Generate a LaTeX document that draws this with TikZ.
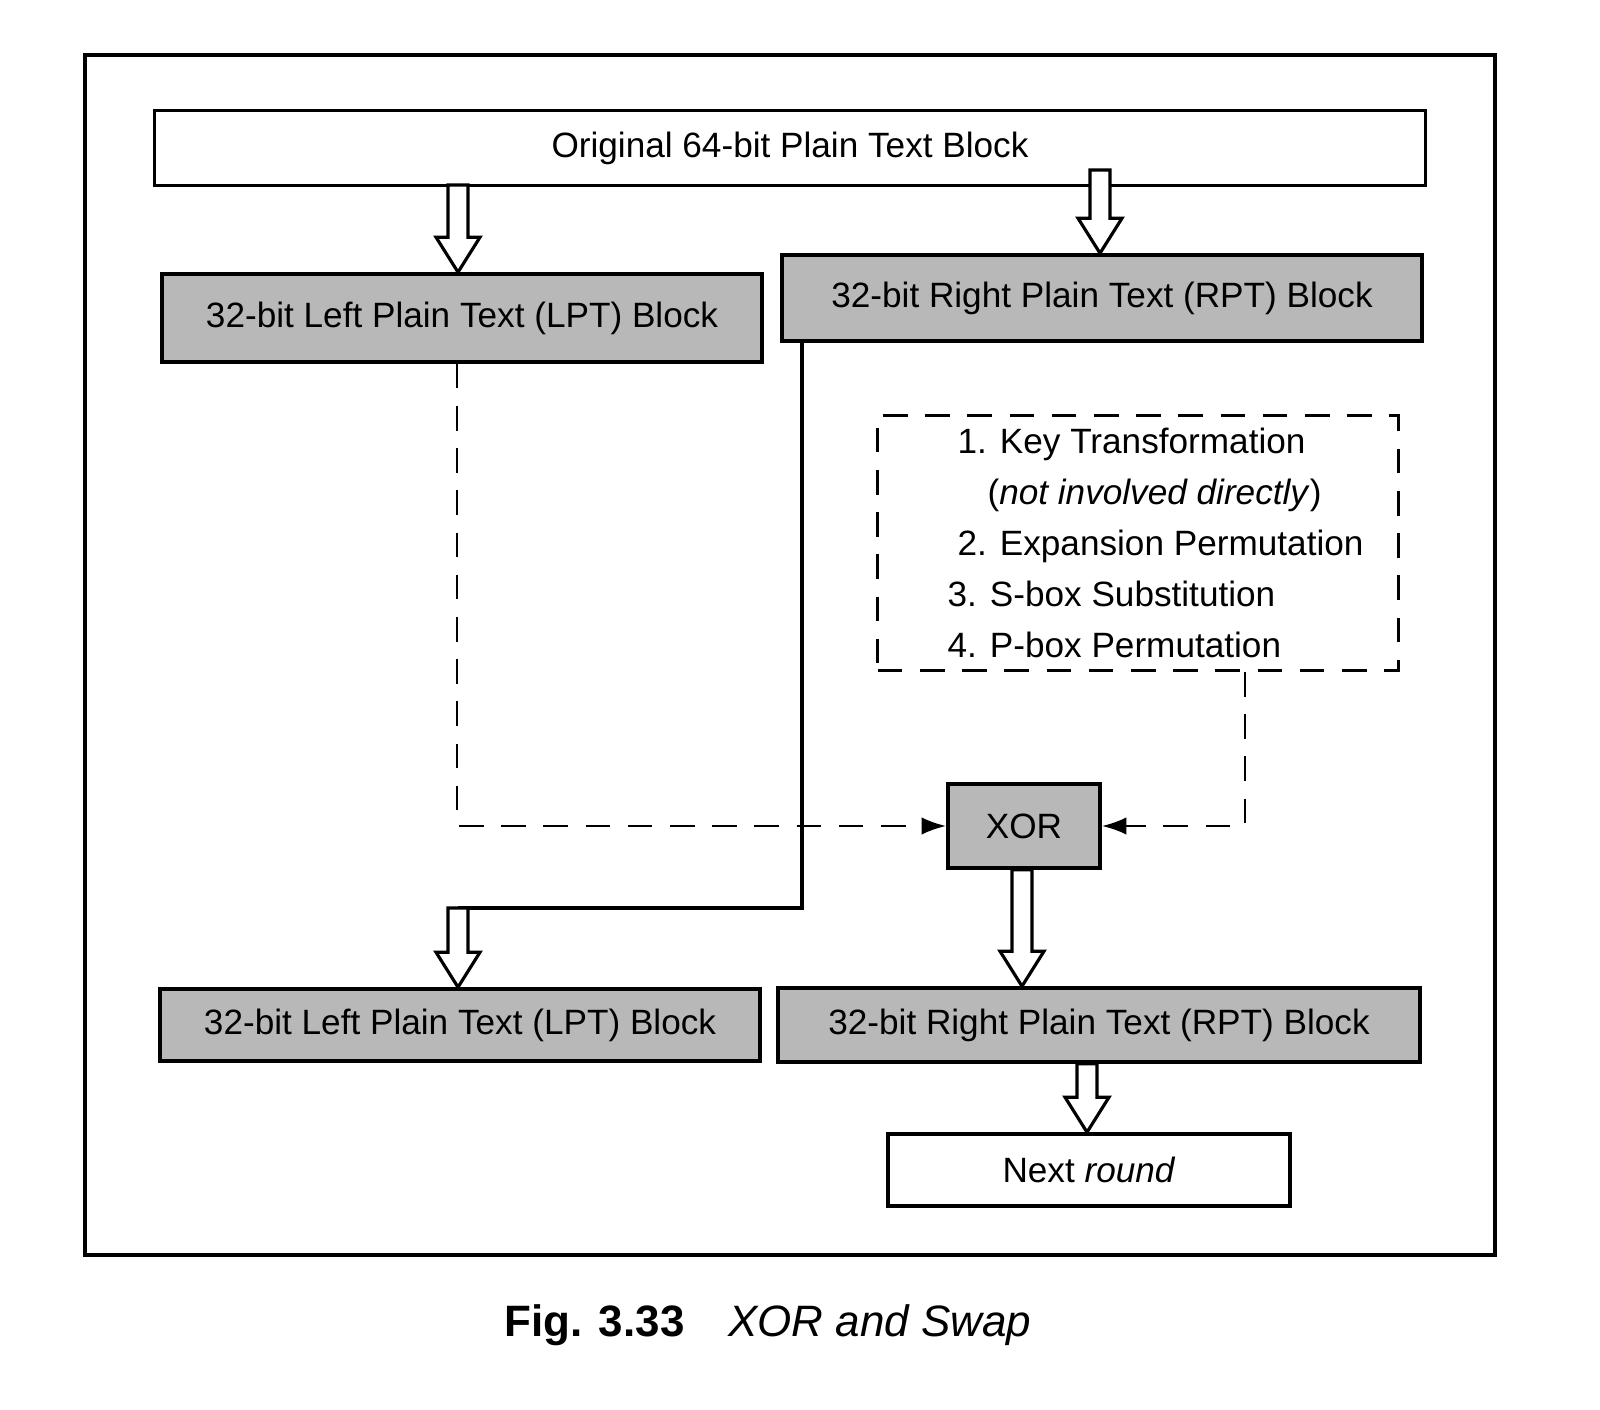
\documentclass[tikz,border=0pt]{standalone}
\usepackage{fontspec}
\setmainfont{Liberation Sans}
\usetikzlibrary{calc,arrows.meta}
\tikzset{
  plain/.style={draw,line width=1pt,inner sep=0pt,font=\fontsize{10}{12}\selectfont},
  grey/.style={plain,fill=black!28},
  hollow/.style={draw,line width=0.9pt,fill=white},
  dline/.style={dashed,dash pattern=on 7pt off 5pt,line width=0.8pt},
  sline/.style={line width=1pt}
}
\newcommand\harrow[2]{\draw[hollow] let \p1=(#1), \p2=(#2) in
 (\x1-0.1cm,\y1) -- (\x1-0.1cm,\y2+0.35cm) -- (\x1-0.22cm,\y2+0.35cm) -- (\x1,\y2)
 -- (\x1+0.22cm,\y2+0.35cm) -- (\x1+0.1cm,\y2+0.35cm) -- (\x1+0.1cm,\y1) -- cycle;}
\begin{document}
\begin{tikzpicture}[x=0.01cm,y=-0.01cm]
\useasboundingbox (0,0) rectangle (1600,1410);
\draw[line width=1.1pt] (85,55) rectangle (1495,1255);
\node[plain,minimum width=12.7cm,minimum height=0.75cm] (top) at (790,148) {Original 64-bit Plain Text Block};
\node[grey,minimum width=6cm,minimum height=0.88cm] (lpt1) at (462,318) {32-bit Left Plain Text (LPT) Block};
\node[grey,minimum width=6.4cm,minimum height=0.86cm] (rpt1) at (1102,298) {32-bit Right Plain Text (RPT) Block};
\node[draw,dline,minimum width=5.2cm,minimum height=2.55cm,align=left,font=\fontsize{10}{14.5}\selectfont] (keys) at (1138,543)
 {\hspace*{0.45cm}1. Key Transformation\\\hspace*{0.75cm}(\textit{not involved directly})\\\hspace*{0.45cm}2. Expansion Permutation\\\hspace*{0.35cm}3. S-box Substitution\\\hspace*{0.35cm}4. P-box Permutation};
\node[grey,minimum width=1.52cm,minimum height=0.84cm] (xor) at (1024,826) {XOR};
\node[grey,minimum width=6cm,minimum height=0.72cm] (lpt2) at (460,1025) {32-bit Left Plain Text (LPT) Block};
\node[grey,minimum width=6.42cm,minimum height=0.74cm] (rpt2) at (1099,1025) {32-bit Right Plain Text (RPT) Block};
\node[plain,minimum width=4.02cm,minimum height=0.72cm] (next) at (1089,1170) {Next \textit{round}};
\node[font=\fontsize{12.5}{14}\selectfont] (cap) at (768,1325) {\textbf{Fig. 3.33}\quad\textit{XOR and Swap}};
\coordinate (a1) at (lpt1.north -| 458,0);
\harrow{458,{185}}{a1}
\coordinate (a2) at (rpt1.north -| 1100,0);
\harrow{1100,{170}}{a2}
\draw[dline,-{Latex[length=7pt,width=5pt]}] (lpt1.south -| 457,0) |- (xor.west);
\draw[dline,-{Latex[length=7pt,width=5pt]}] (keys.south -| 1245,0) |- (xor.east);
\coordinate (bend) at (458,908);
\draw[sline] (rpt1.south -| 802,0) |- (bend);
\coordinate (a3) at (lpt2.north -| 458,0);
\harrow{bend}{a3}
\coordinate (a4) at (rpt2.north -| 1022,0);
\harrow{xor.south -| 1022,0}{a4}
\coordinate (a5) at (next.north -| 1087,0);
\harrow{rpt2.south -| 1087,0}{a5}
\end{tikzpicture}
\end{document}
